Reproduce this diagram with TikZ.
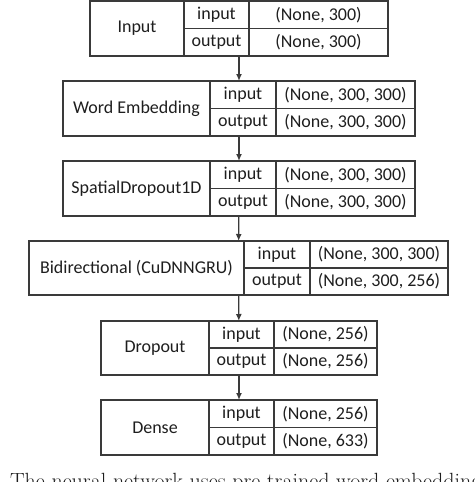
\documentclass[tikz,border=0pt]{standalone}
\usepackage{fontspec}
\newfontfamily\diagfont{Carlito}
\usetikzlibrary{arrows.meta}
\definecolor{linec}{HTML}{3A3A3A}
\definecolor{textc}{HTML}{1E1E1E}
% #1 id, #2 left, #3 right, #4 top, #5 bottom, #6 divider 1, #7 divider 2, #8 name
\newcommand\mklayer[8]{%
  \pgfmathsetmacro\lymid{(#4+#5)/2}%
  \node[cell, minimum width={#6-#2}, minimum height={#5-#4}]
    (#1-name) at ({(#2+#6)/2},{(#4+#5)/2}) {#8};
  \node[cell, minimum width={#7-#6}, minimum height={(#5-#4)/2}]
    (#1-inl) at ({(#6+#7)/2},{(3*#4+#5)/4}) {input};
  \node[cell, minimum width={#7-#6}, minimum height={(#5-#4)/2}]
    (#1-outl) at ({(#6+#7)/2},{(#4+3*#5)/4}) {output};
  \node[cell, minimum width={#3-#7}, minimum height={(#5-#4)/2}]
    (#1-inv) at ({(#7+#3)/2},{(3*#4+#5)/4}) {};
  \node[cell, minimum width={#3-#7}, minimum height={(#5-#4)/2}]
    (#1-outv) at ({(#7+#3)/2},{(#4+3*#5)/4}) {};
  \node[box, minimum width={#3-#2}, minimum height={#5-#4}]
    (#1) at ({(#2+#3)/2},{(#4+#5)/2}) {};
}
\newcommand\mkvalues[3]{%
  \node[cell, draw=none] at (#1-inv) {#2};
  \node[cell, draw=none] at (#1-outv) {#3};
}
\begin{document}
\begin{tikzpicture}[x=1pt,y=-1pt,
  cell/.style={draw=linec, line width=1.3pt, inner sep=0pt, outer sep=0pt,
    text=textc, font=\diagfont\fontsize{18}{20}\selectfont},
  box/.style={draw=linec, line width=1.3pt, inner sep=0pt, outer sep=0pt},
  arr/.style={draw=linec, line width=1.3pt, -{Latex[length=7pt,width=6pt]}},
  caption/.style={anchor=base west, inner sep=0pt, outer sep=0pt,
    font=\fontsize{22}{26}\selectfont, text=textc}]
\useasboundingbox (0,0) rectangle (474,482);
\mklayer{inp}{90}{388}{1}{56}{184}{249}{Input}
\mkvalues{inp}{(None, 300)}{(None, 300)}
\mklayer{emb}{63}{415}{81}{136}{210}{276}{Word Embedding}
\mkvalues{emb}{(None, 300, 300)}{(None, 300, 300)}
\mklayer{sdo}{63}{415}{161}{216}{210}{276}{SpatialDropout1D}
\mkvalues{sdo}{(None, 300, 300)}{(None, 300, 300)}
\mklayer{bid}{29}{448}{241}{295}{244}{310}{Bidirectional (CuDNNGRU)}
\mkvalues{bid}{(None, 300, 300)}{(None, 300, 256)}
\mklayer{dro}{101}{377}{321}{375}{209}{274}{Dropout}
\mkvalues{dro}{(None, 256)}{(None, 256)}
\mklayer{den}{101}{377}{400}{455}{209}{274}{Dense}
\mkvalues{den}{(None, 256)}{(None, 633)}
\draw[arr] (inp) -- (emb);
\draw[arr] (emb) -- (sdo);
\draw[arr] (sdo) -- (bid);
\draw[arr] (bid) -- (dro);
\draw[arr] (dro) -- (den);
\node[caption] (cap) at (-14.4,488) {1: The neural network uses pre-trained word embeddings};
\end{tikzpicture}
\end{document}
